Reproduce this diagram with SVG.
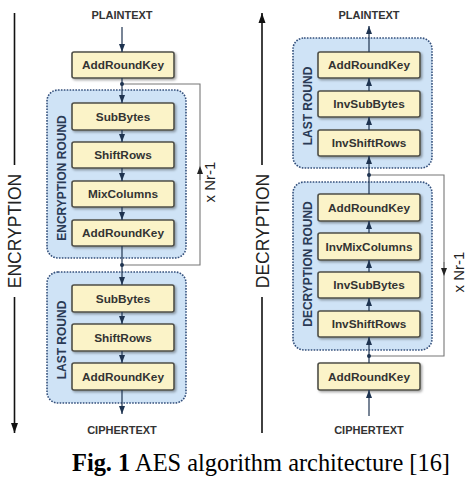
<svg xmlns="http://www.w3.org/2000/svg" width="474" height="477" viewBox="0 0 474 477">
<defs>
<marker id="ah" markerUnits="userSpaceOnUse" markerWidth="8" markerHeight="8" viewBox="0 0 8 8" refX="8" refY="4" orient="auto">
<path d="M0,1 L8,4 L0,7 Z" fill="#1e3350"/>
</marker>
<marker id="ahg" markerUnits="userSpaceOnUse" markerWidth="8" markerHeight="8" viewBox="0 0 8 8" refX="4" refY="4" orient="auto">
<path d="M0,1 L8,4 L0,7 Z" fill="#222"/>
</marker>
<marker id="big" markerUnits="userSpaceOnUse" markerWidth="10" markerHeight="10" viewBox="0 0 10 10" refX="10" refY="5" orient="auto">
<path d="M0,1.5 L10,5 L0,8.5 Z" fill="#111"/>
</marker>
<filter id="sh" x="-10%" y="-20%" width="130%" height="160%">
<feDropShadow dx="1.5" dy="1.5" stdDeviation="0.8" flood-color="#000" flood-opacity="0.35"/>
</filter>
</defs>
<style>
.cont{fill:#cfe3f6;stroke:#34507c;stroke-width:1.6;stroke-dasharray:1.6 1.3}
.box{fill:#fbf3c8;stroke:#4f4f47;stroke-width:1.6}
.bt{font-family:"Liberation Sans",Arial,sans-serif;font-weight:bold;font-size:11.8px;fill:#333;text-anchor:middle}
.io{font-family:"Liberation Sans",Arial,sans-serif;font-weight:bold;font-size:11px;fill:#333;text-anchor:middle}
.rl{font-family:"Liberation Sans",Arial,sans-serif;font-weight:bold;font-size:12px;fill:#2a3a55;text-anchor:middle}
.big{font-family:"Liberation Sans",Arial,sans-serif;font-size:17.5px;fill:#222;text-anchor:middle}
.nr{font-family:"Liberation Sans",Arial,sans-serif;font-size:15px;fill:#222;text-anchor:middle}
.fl{fill:none;stroke:#1e3350;stroke-width:1.2}
.lp{fill:none;stroke:#777;stroke-width:1.1}
.ax{fill:none;stroke:#111;stroke-width:1.6}
.cap{font-family:"Liberation Serif","Times New Roman",serif;font-size:24.4px;fill:#000}
</style>

<!-- ENCRYPTION side -->
<g id="enc-label">
<line class="ax" x1="14.5" y1="13" x2="14.5" y2="165"/>
<line class="ax" x1="14.5" y1="297" x2="14.5" y2="433" marker-end="url(#big)"/>
<text class="big" transform="translate(20.5,231) rotate(-90)">ENCRYPTION</text>
</g>
<g id="enc-plaintext"><text class="io" x="122" y="19">PLAINTEXT</text></g>
<g id="enc-ark0"><rect class="box" filter="url(#sh)" x="72" y="52" width="102" height="26" rx="2"/><text class="bt" x="123" y="69.2">AddRoundKey</text></g>
<g id="enc-round">
<rect class="cont" x="47" y="90" width="139" height="168" rx="11"/>
<text class="rl" transform="translate(65.5,178) rotate(-90)">ENCRYPTION ROUND</text>
</g>
<g id="enc-sub"><rect class="box" filter="url(#sh)" x="72" y="103" width="102" height="27" rx="2"/><text class="bt" x="123" y="120.7">SubBytes</text></g>
<g id="enc-shift"><rect class="box" filter="url(#sh)" x="72" y="142" width="102" height="26" rx="2"/><text class="bt" x="123" y="159.2">ShiftRows</text></g>
<g id="enc-mix"><rect class="box" filter="url(#sh)" x="72" y="181" width="102" height="26" rx="2"/><text class="bt" x="123" y="198.2">MixColumns</text></g>
<g id="enc-ark1"><rect class="box" filter="url(#sh)" x="72" y="220" width="102" height="26" rx="2"/><text class="bt" x="123" y="237.2">AddRoundKey</text></g>
<g id="enc-last">
<rect class="cont" x="47" y="272" width="139" height="131" rx="11"/>
<text class="rl" transform="translate(65.5,340) rotate(-90)">LAST ROUND</text>
</g>
<g id="enc-sub2"><rect class="box" filter="url(#sh)" x="72" y="285" width="102" height="27" rx="2"/><text class="bt" x="123" y="302.7">SubBytes</text></g>
<g id="enc-shift2"><rect class="box" filter="url(#sh)" x="72" y="324" width="102" height="27" rx="2"/><text class="bt" x="123" y="341.7">ShiftRows</text></g>
<g id="enc-ark2"><rect class="box" filter="url(#sh)" x="72" y="363" width="102" height="27" rx="2"/><text class="bt" x="123" y="380.7">AddRoundKey</text></g>
<g id="enc-cipher"><text class="io" x="122" y="434">CIPHERTEXT</text></g>
<g id="enc-nr"><text class="nr" transform="translate(215,182) rotate(-90)">x Nr-1</text></g>

<!-- DECRYPTION side -->
<g id="dec-label">
<line class="ax" x1="262" y1="433" x2="262" y2="297"/>
<line class="ax" x1="262" y1="165" x2="262" y2="13" marker-end="url(#big)"/>
<text class="big" transform="translate(269,231) rotate(-90)">DECRYPTION</text>
</g>
<g id="dec-plaintext"><text class="io" x="369" y="19">PLAINTEXT</text></g>
<g id="dec-last">
<rect class="cont" x="293" y="38" width="139" height="130" rx="11"/>
<text class="rl" transform="translate(312,106) rotate(-90)">LAST ROUND</text>
</g>
<g id="dec-ark2"><rect class="box" filter="url(#sh)" x="318" y="52" width="102" height="26" rx="2"/><text class="bt" x="369" y="69.2">AddRoundKey</text></g>
<g id="dec-isub2"><rect class="box" filter="url(#sh)" x="318" y="91" width="102" height="26" rx="2"/><text class="bt" x="369" y="108.2">InvSubBytes</text></g>
<g id="dec-ishift2"><rect class="box" filter="url(#sh)" x="318" y="130" width="102" height="26" rx="2"/><text class="bt" x="369" y="147.2">InvShiftRows</text></g>
<g id="dec-round">
<rect class="cont" x="293" y="182" width="139" height="168" rx="11"/>
<text class="rl" transform="translate(311.5,264) rotate(-90)">DECRYPTION ROUND</text>
</g>
<g id="dec-ark1"><rect class="box" filter="url(#sh)" x="318" y="194" width="102" height="27" rx="2"/><text class="bt" x="369" y="211.7">AddRoundKey</text></g>
<g id="dec-imix"><rect class="box" filter="url(#sh)" x="318" y="233" width="102" height="27" rx="2"/><text class="bt" x="369" y="250.7">InvMixColumns</text></g>
<g id="dec-isub"><rect class="box" filter="url(#sh)" x="318" y="272" width="102" height="26" rx="2"/><text class="bt" x="369" y="289.2">InvSubBytes</text></g>
<g id="dec-ishift"><rect class="box" filter="url(#sh)" x="318" y="311" width="102" height="26" rx="2"/><text class="bt" x="369" y="328.2">InvShiftRows</text></g>
<g id="dec-ark0"><rect class="box" filter="url(#sh)" x="318" y="363" width="102" height="27" rx="2"/><text class="bt" x="369" y="380.7">AddRoundKey</text></g>
<g id="dec-cipher"><text class="io" x="369" y="434">CIPHERTEXT</text></g>
<g id="dec-nr"><text class="nr" transform="translate(464,272) rotate(-90)">x Nr-1</text></g>

<g id="connectors">
<!-- encryption flow -->
<line class="fl" x1="122" y1="27" x2="122" y2="52" marker-end="url(#ah)"/>
<line class="fl" x1="122" y1="78" x2="122" y2="103" marker-end="url(#ah)"/>
<line class="fl" x1="122" y1="130" x2="122" y2="142" marker-end="url(#ah)"/>
<line class="fl" x1="122" y1="168" x2="122" y2="181" marker-end="url(#ah)"/>
<line class="fl" x1="122" y1="207" x2="122" y2="220" marker-end="url(#ah)"/>
<line class="fl" x1="122" y1="246" x2="122" y2="285" marker-end="url(#ah)"/>
<line class="fl" x1="122" y1="312" x2="122" y2="324" marker-end="url(#ah)"/>
<line class="fl" x1="122" y1="351" x2="122" y2="363" marker-end="url(#ah)"/>
<line class="fl" x1="122" y1="390" x2="122" y2="414" marker-end="url(#ah)"/>
<path class="lp" d="M122,265 H200 V84 H122"/>
<line class="lp" x1="200" y1="180" x2="200" y2="170" marker-end="url(#ahg)"/>
<circle cx="122" cy="84" r="2" fill="#1e3350"/>
<circle cx="122" cy="265" r="2" fill="#1e3350"/>
<!-- decryption flow -->
<line class="fl" x1="369" y1="416" x2="369" y2="390" marker-end="url(#ah)"/>
<line class="fl" x1="369" y1="363" x2="369" y2="337" marker-end="url(#ah)"/>
<line class="fl" x1="369" y1="311" x2="369" y2="298" marker-end="url(#ah)"/>
<line class="fl" x1="369" y1="272" x2="369" y2="260" marker-end="url(#ah)"/>
<line class="fl" x1="369" y1="233" x2="369" y2="221" marker-end="url(#ah)"/>
<line class="fl" x1="369" y1="194" x2="369" y2="156" marker-end="url(#ah)"/>
<line class="fl" x1="369" y1="130" x2="369" y2="117" marker-end="url(#ah)"/>
<line class="fl" x1="369" y1="91" x2="369" y2="78" marker-end="url(#ah)"/>
<line class="fl" x1="369" y1="52" x2="369" y2="26" marker-end="url(#ah)"/>
<path class="lp" d="M369,175 H444 V356 H369"/>
<line class="lp" x1="444" y1="262" x2="444" y2="272" marker-end="url(#ahg)"/>
<circle cx="369" cy="175" r="2" fill="#1e3350"/>
<circle cx="369" cy="356" r="2" fill="#1e3350"/>
</g>

<g id="caption">
<text class="cap" x="72" y="471"><tspan font-weight="bold">Fig. 1</tspan> AES algorithm architecture [16]</text>
</g>
</svg>
